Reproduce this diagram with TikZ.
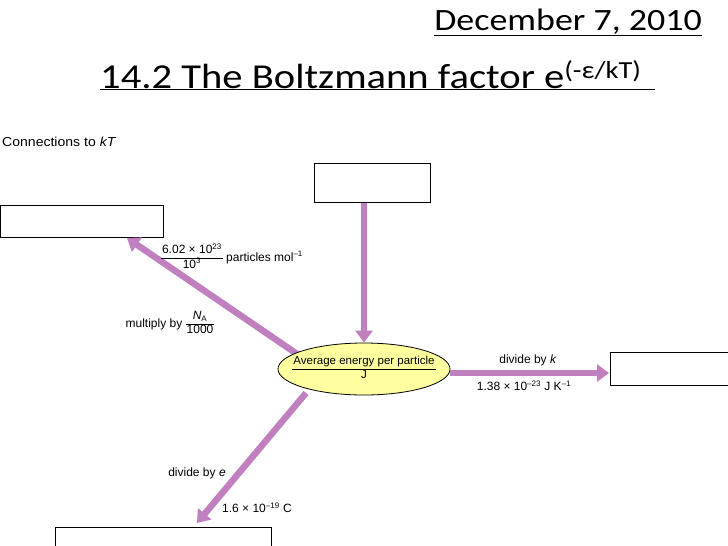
\documentclass[tikz,border=0pt]{standalone}
\usepackage{fontspec}
\setmainfont{Liberation Sans}
\newfontfamily\calfont{Carlito}
\usetikzlibrary{arrows.meta,shapes.geometric}
\newcommand{\tfr}[2]{$\vcenter{\hbox{\setlength{\tabcolsep}{1pt}\renewcommand{\arraystretch}{1.05}\begin{tabular}{c}#1\\\hline #2\end{tabular}}}$}
\newcommand{\sps}[1]{\textsuperscript{#1}}
\begin{document}
\begin{tikzpicture}[x=1pt,y=-1pt,
  arr/.style={draw=purp,line width=6.5pt,-{Triangle[length=12pt,width=17pt]}},
  lab/.style={font=\fontsize{12}{13}\selectfont,inner sep=1pt}]
\definecolor{purp}{HTML}{C080C0}
\definecolor{yel}{HTML}{FFFFA0}
\useasboundingbox (0,0) rectangle (728,546);
\node[anchor=base east,font=\calfont\fontsize{31}{33}\selectfont,inner sep=0pt] (date) at (702,30) {\scalebox{1.16}[1]{\underline{December 7, 2010}}};
\node[anchor=base west,font=\calfont\fontsize{35}{38}\selectfont,inner sep=0pt] (title) at (100,88) {\scalebox{1.16}[1]{\underline{14.2 The Boltzmann factor e\sps{(-ε/kT)}\,\,}}};
\node[anchor=base west,font=\fontsize{13}{15}\selectfont,inner sep=0pt] (conn) at (2,146) {\scalebox{1.08}[1]{Connections to \textit{kT}}};
\draw[line width=0.8pt] (0,205) rectangle (163,237);
\coordinate (bl) at (127,238);
\draw[line width=0.8pt] (314,163) rectangle (430,202);
\coordinate (bt) at (364,203);
\draw[line width=0.8pt] (610,352) rectangle (740,385);
\coordinate (br) at (609,373);
\draw[line width=0.8pt] (55,527) rectangle (271,560);
\coordinate (bb) at (197,523);
\coordinate (sl) at (300,356);
\coordinate (sb) at (306,393);
\draw[arr] (sl) -- (bl);
\draw[arr] (sb) -- (bb);
\node[draw,ellipse,fill=yel,line width=0.8pt,minimum width=172pt,minimum height=52pt,inner xsep=-40pt,inner ysep=0pt,font=\fontsize{11.5}{13}\selectfont] (e) at (364,369) {\tfr{Average energy per particle}{J}};
\draw[arr] (bt) -- (e.north);
\draw[arr] (e.east |- br) -- (br);
\node[lab] (f1) at (232,258) {\tfr{6.02 × 10\sps{23}}{10\sps{3}} particles mol\sps{–1}};
\node[lab] (f2) at (170,324) {multiply by \tfr{\textit{N}\textsubscript{A}}{1000}};
\node[lab] (k1) at (528,360) {divide by \textit{k}};
\node[lab] (k2) at (524,386) {1.38 × 10\sps{–23} J K\sps{–1}};
\node[lab] (c1) at (197,473) {divide by \textit{e}};
\node[lab] (c2) at (257,508) {1.6 × 10\sps{–19} C};
\end{tikzpicture}
\end{document}
